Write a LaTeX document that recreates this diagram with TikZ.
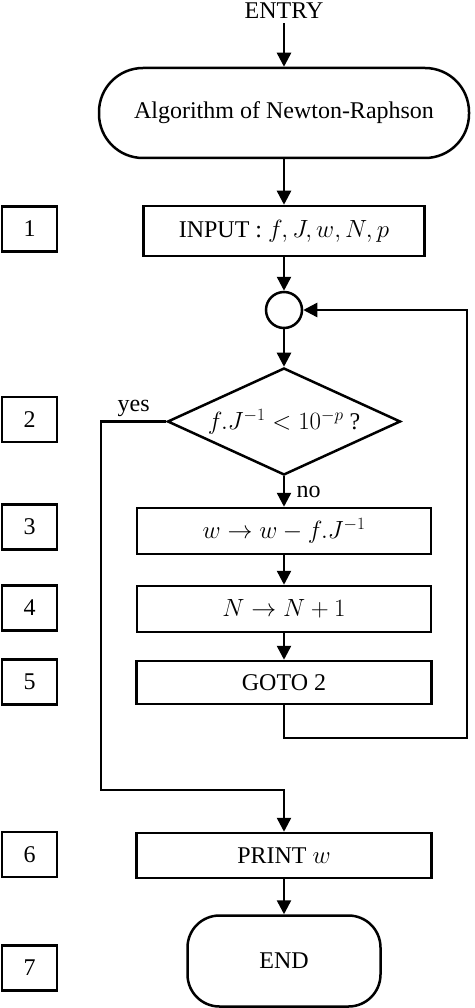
\documentclass[tikz,border=0pt]{standalone}
\usepackage{fontspec}
\setmainfont{Liberation Serif}
\usepackage{amsmath}
\usetikzlibrary{arrows.meta,positioning,shapes.geometric}
\tikzstyle{every node}=[font=\fontsize{24}{29}\selectfont]
\tikzstyle{terminal}=[rectangle, draw=black, inner sep=0pt]
\tikzstyle{process}=[rectangle, draw=black, minimum height=46pt, inner sep=0pt]
\tikzstyle{decision}=[diamond, aspect=2.2, draw=black, minimum width=233pt, minimum height=107pt, inner sep=0pt]
\tikzstyle{junction}=[circle, draw=black, minimum size=36pt, inner sep=0pt]
\tikzstyle{stepnum}=[rectangle, draw=black, minimum width=55pt, minimum height=45pt, inner sep=0pt]

\begin{document}
\begin{tikzpicture}[x=1pt, y=-1pt, line width=2.5pt, ->, >={Triangle[length=14pt, width=14pt]}]
	\useasboundingbox (0, 0) rectangle (474, 1008);
	
	\node at (284, 11) (entry) {ENTRY};
	
	\node[terminal, rounded corners=44pt, minimum width=370pt, minimum height=90pt] at (284, 113) (algo) {Algorithm of Newton-Raphson};
	
	\node[process, minimum width=281pt, minimum height=50pt] at (284, 231) (input) {INPUT : $f,J,w,N,p$};
	
	\node[junction] at (284, 310) (join) {};
	
	\node[decision] at (284, 421.5) (test) {$f.J^{-1} < 10^{-p}$ ?};
	
	\node[process, minimum width=294pt] at (284, 531) (upd) {$w \to w - f.J^{-1}$};
	
	\node[process, minimum width=294pt] at (284, 609) (incr) {$N \to N + 1$};
	
	\node[process, minimum width=295pt, minimum height=43pt] at (284, 682.5) (jump) {GOTO 2};
	
	\node[process, minimum width=295pt, minimum height=45pt] at (284, 855.5) (outw) {PRINT $w$};
	
	\node[terminal, rounded corners=32pt, minimum width=193pt, minimum height=91pt] at (284, 961) (stop) {END};
	
	% step numbers on the left
	\node[stepnum] at (29.5, 229) (n1) {1};
	\node[stepnum] at (29.5, 419.5) (n2) {2};
	\node[stepnum] at (29.5, 527) (n3) {3};
	\node[stepnum] at (29.5, 608) (n4) {4};
	\node[stepnum] at (29.5, 682) (n5) {5};
	\node[stepnum] at (29.5, 854.5) (n6) {6};
	\node[stepnum] at (29.5, 968) (n7) {7};
	
	\coordinate (back) at (467, 738);
	\coordinate (yes) at (101, 790);
	
	\path (entry) edge (algo);
	\path (algo) edge (input);
	\path (input) edge (join);
	\path (join) edge (test);
	\path (test) edge node[right, xshift=8pt]{no} (upd);
	\path (upd) edge (incr);
	\path (incr) edge (jump);
	\draw (jump) |- (back) |- (join);
	\draw (test) -| node[pos=0.25, above]{yes} (yes) -| (outw);
	\path (outw) edge (stop);
	
\end{tikzpicture}
\end{document}
